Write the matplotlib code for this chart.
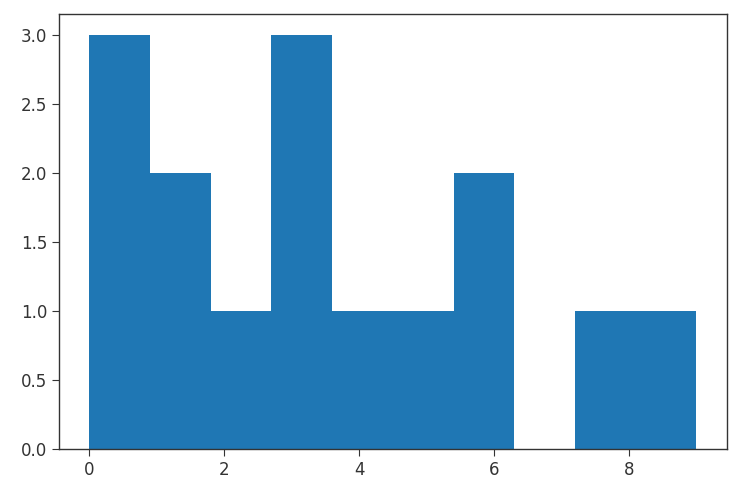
import matplotlib
matplotlib.use("Agg")
import matplotlib.pyplot as plt

# integer sample values (10 bins over 0..9)
values = [0, 0, 0, 1, 1, 2, 3, 3, 3, 4, 5, 6, 6, 8, 9]
n_bins = 10

fig = plt.figure(figsize=(7.54, 4.94), dpi=100)
ax = fig.add_axes([0.078, 0.091, 0.886, 0.881])
ax.hist(values, bins=n_bins, color="#1f77b4")
ax.tick_params(labelsize=12, length=5, colors="#333333")
for s in ax.spines.values():
    s.set_linewidth(1.0)
    s.set_color("#333333")
fig.savefig("out.png", dpi=100)
